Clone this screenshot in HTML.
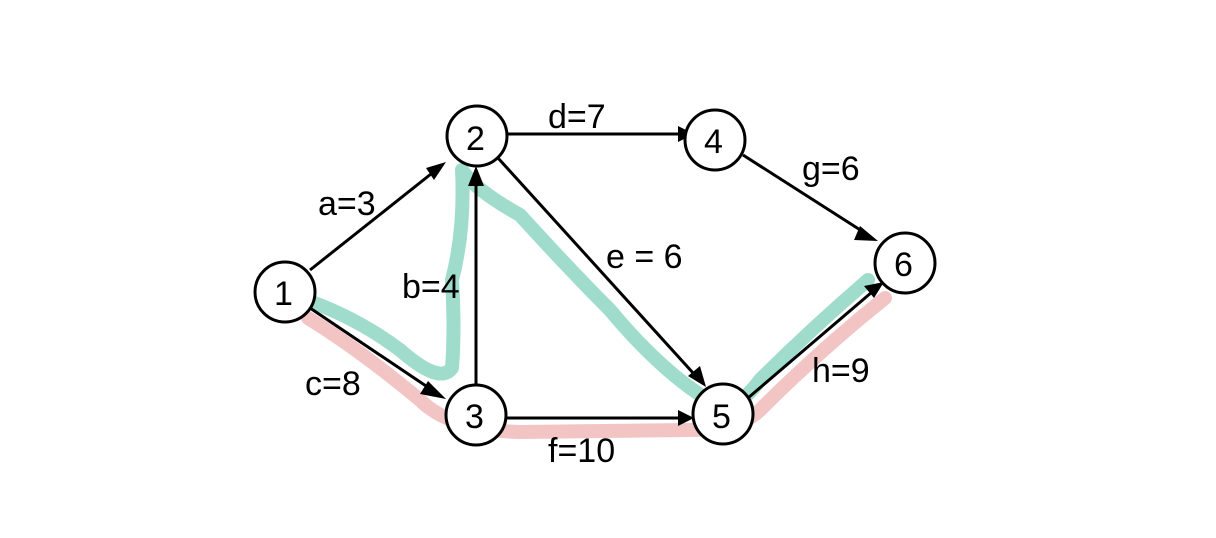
<!DOCTYPE html>
<html><head><style>
html,body{margin:0;padding:0;background:#fff;}
svg{display:block;}
text{font-family:"Liberation Sans",sans-serif;font-size:34px;fill:#000;}
</style></head><body>
<svg width="1216" height="538" viewBox="0 0 1216 538" xmlns="http://www.w3.org/2000/svg">
<defs><marker id="a" markerWidth="10" markerHeight="10" refX="9" refY="5" orient="auto" markerUnits="userSpaceOnUse"><path d="M0,0 L0,0" /></marker></defs>
<!-- highlights -->
<path d="M308,318 Q360,350 420,400 Q450,430 520,432 L690,430 Q740,430 760,410 Q820,350 885,298" fill="none" stroke="#f2c4c4" stroke-width="14" stroke-linecap="round" stroke-linejoin="round"/>
<path d="M312,302 Q360,320 400,350 Q440,385 452,368 Q455,330 452,280 Q465,230 462,170 Q475,190 520,215 Q570,270 610,310 Q660,370 708,400 Q730,420 760,380 Q810,330 868,280" fill="none" stroke="#a0dccb" stroke-width="14" stroke-linecap="round" stroke-linejoin="round"/>
<!-- edges -->
<g stroke="#000" stroke-width="3" fill="none">
<line x1="310" y1="270" x2="436" y2="170"/>
<line x1="508" y1="134" x2="680" y2="134"/>
<line x1="743" y1="155" x2="865" y2="233"/>
<line x1="498" y1="158" x2="694" y2="374"/>
<line x1="476" y1="386" x2="476" y2="182"/>
<line x1="310" y1="308" x2="432" y2="390"/>
<line x1="507" y1="418" x2="680" y2="418"/>
<line x1="748" y1="398" x2="872" y2="292"/>
</g>
<g fill="#000">
<polygon points="446,162 426,168 434,180"/>
<polygon points="694,134 678,126 678,142"/>
<polygon points="878,241 860,226 854,240"/>
<polygon points="706,387 700,366 688,376"/>
<polygon points="476,166 468,186 484,186"/>
<polygon points="446,399 428,381 420,394"/>
<polygon points="694,418 678,410 678,426"/>
<polygon points="884,282 864,286 874,298"/>
</g>
<!-- nodes -->
<g stroke="#000" stroke-width="3" fill="#fff">
<circle cx="285" cy="292" r="30"/>
<circle cx="477" cy="136" r="30"/>
<circle cx="715" cy="140" r="30"/>
<circle cx="905" cy="263" r="30"/>
<circle cx="476" cy="415" r="30"/>
<circle cx="723" cy="414" r="30"/>
</g>
<text x="274" y="305">1</text>
<text x="466" y="150">2</text>
<text x="704" y="153">4</text>
<text x="894" y="276">6</text>
<text x="465" y="428">3</text>
<text x="712" y="428">5</text>
<text x="318" y="215">a=3</text>
<text x="548" y="128">d=7</text>
<text x="802" y="180">g=6</text>
<text x="606" y="268">e = 6</text>
<text x="402" y="298">b=4</text>
<text x="305" y="395">c=8</text>
<text x="548" y="462">f=10</text>
<text x="812" y="382">h=9</text>
</svg>
</body></html>
